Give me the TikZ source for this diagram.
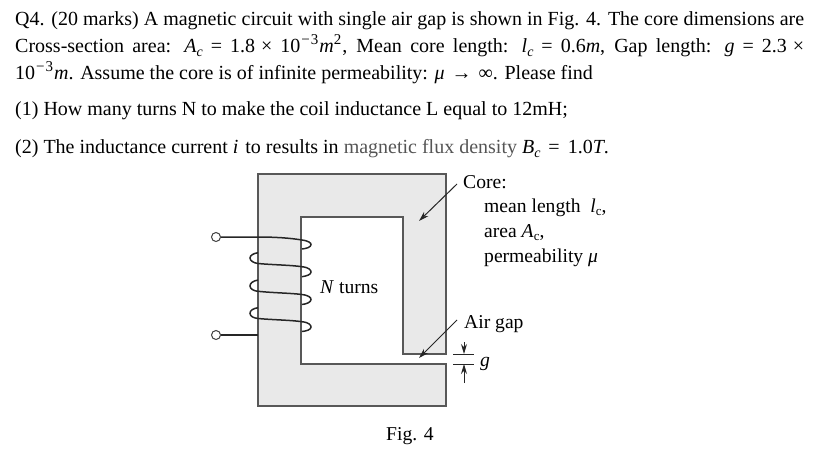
\documentclass[tikz,border=0pt]{standalone}
\usepackage{fontspec}
\setmainfont{Liberation Serif}
\usetikzlibrary{arrows.meta}
\definecolor{corefill}{HTML}{E9E9E9}
\definecolor{coreline}{HTML}{585858}
\definecolor{softtext}{HTML}{555555}
\newcommand{\lowc}{\raisebox{-4pt}{\fontsize{14}{14}\selectfont\textit{c}}}
\newcommand{\highx}[1]{\raisebox{7.5pt}{\fontsize{15}{15}\selectfont #1}\hspace{1pt}}
\newcommand{\figc}{\raisebox{-3pt}{\fontsize{13}{13}\selectfont c}}
\newcommand{\sep}{\hspace{8pt}}
\newcommand{\minussign}{\hspace{1pt}−\hspace{1pt}}
\tikzset{
  every picture/.style={x=1pt,y=-1pt},
  para/.style={anchor=base west,inner sep=0pt,font=\fontsize{20}{24}\selectfont},
  fig/.style={anchor=base west,inner sep=0pt,font=\fontsize{19.6}{24}\selectfont},
  core/.style={fill=corefill,draw=coreline,line width=1.2pt,line join=miter},
  coil/.style={draw=black!85,line width=1.5pt},
  terminal/.style={circle,draw=black!75,fill=white,line width=1pt,minimum size=9pt,inner sep=0pt},
  leader/.style={draw=black!85,line width=1pt,-{Stealth[length=10pt,width=6pt]}},
  gapline/.style={draw=black!85,line width=1pt},
}
\begin{document}
\begin{tikzpicture}
\useasboundingbox (0,0) rectangle (826,461);
% question text
\node[para] (l1) at (15,25) {\makebox[789pt][s]{Q4. (20 marks) A magnetic circuit with single air gap is shown in Fig. 4. The core dimensions are}};
\node[para] (l2) at (15,52) {\makebox[789pt][s]{Cross-section area: \textit{A}\lowc\sep=\sep1.8\hspace{6pt}×\sep10\highx{\minussign3}\textit{m}\highx{2}, Mean core length: \textit{l}\lowc\sep=\sep0.6\textit{m}, Gap length: \textit{g}\sep=\sep2.3\hspace{6pt}×}};
\node[para] (l3) at (15,79) {10\highx{\minussign3}\textit{m}. Assume the core is of infinite permeability: \textit{μ}\hspace{7pt}→\hspace{7pt}∞. Please find};
\node[para] (l4) at (15,115.5) {(1) How many turns N to make the coil inductance L equal to 12mH;};
\node[para] (l5) at (15,153) {(2) The inductance current \textit{i}\hspace{2pt} to results in {\color{softtext}magnetic flux density} \textit{B}\lowc\sep=\sep1.0\textit{T}.};
% core
\draw[core] (258,174) -- (446,174) -- (446,354) -- (403,354) -- (403,217) -- (301,217)
  -- (301,364) -- (446,364) -- (446,406) -- (258,406) -- cycle;
% terminals
\node[terminal] (t1) at (216,237) {};
\node[terminal] (t2) at (216,335) {};
\coordinate (c1) at (258,237);
\coordinate (c2) at (258,335);
% coil
\draw[coil] (t1) -- (c1) .. controls (275,237) and (290,238) .. (302,240)
  .. controls (309,241) and (311,243) .. (311,244.5)
  .. controls (311,247) and (307,248.5) .. (302,249);
\draw[coil] (258,252.7) .. controls (253,253.5) and (250,255.5) .. (250,258)
  .. controls (250,261) and (254,263) .. (258,263.5)
  .. controls (275,265) and (290,265) .. (302,266.7)
  .. controls (309,267.5) and (311,270) .. (311,272)
  .. controls (311,274.5) and (307,276) .. (302,276.7);
\draw[coil] (258,280) .. controls (253,281) and (250,283) .. (250,286)
  .. controls (250,289) and (254,291) .. (258,291.3)
  .. controls (275,293) and (290,293) .. (302,294.5)
  .. controls (309,295.5) and (311,297.5) .. (311,299.5)
  .. controls (311,302) and (307,304) .. (302,304.5);
\draw[coil] (258,307.7) .. controls (253,308.5) and (250,310.5) .. (250,313.3)
  .. controls (250,316.5) and (254,318) .. (258,318.5)
  .. controls (275,320) and (290,320) .. (302,321.7)
  .. controls (309,322.5) and (311,325) .. (311,327)
  .. controls (311,329.5) and (307,331) .. (302,331.5);
\draw[coil] (t2) -- (c2);
% labels
\node[fig] (nt) at (320,293) {\textit{N} turns};
\node[fig] (corel) at (463,188.5) {Core:};
\node[fig] (ml) at (484,212) {mean length\enspace\textit{l}\figc,};
\node[fig] (ar) at (484,237.5) {area \textit{A}\figc,};
\node[fig] (pm) at (484,262) {permeability \textit{μ}};
\node[fig] (ag) at (464,328) {Air gap};
\node[fig] (gl) at (480,366) {\textit{g}};
\node[fig] (figl) at (386,440) {Fig. 4};
% leaders
\coordinate (corefrom) at (457,184);
\coordinate (coreto) at (419,221);
\coordinate (gapfrom) at (457,320);
\coordinate (gapto) at (419,358);
\draw[leader] (corefrom) -- (coreto);
\draw[leader] (gapfrom) -- (gapto);
% gap dimension
\coordinate (g1a) at (453,354);
\coordinate (g1b) at (474,354);
\coordinate (g2a) at (453,364);
\coordinate (g2b) at (474,364);
\coordinate (ga1) at (464,342);
\coordinate (ga2) at (464,354);
\coordinate (gb1) at (464,383);
\coordinate (gb2) at (464,364);
\draw[gapline] (g1a) -- (g1b);
\draw[gapline] (g2a) -- (g2b);
\draw[leader] (ga1) -- (ga2);
\draw[leader] (gb1) -- (gb2);
\end{tikzpicture}
\end{document}
